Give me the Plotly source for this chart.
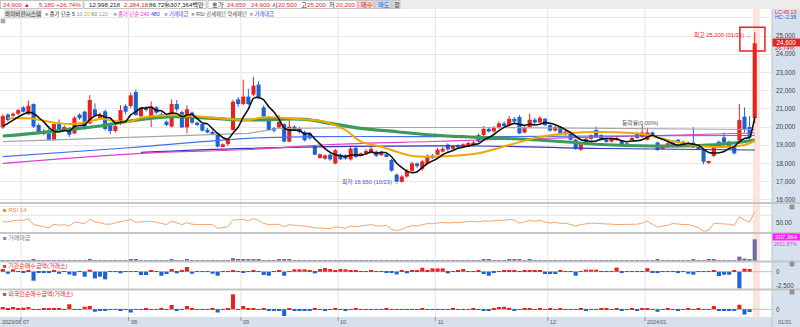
import plotly.graph_objects as go
import pandas as pd

# ---------------- data ----------------
month_labels = ["2023/06", "07", "08", "09", "10", "11", "12", "2024/01"]
month_first = [0, 4, 25, 47, 66, 85, 107, 126]
last_label = "01/31"

opens = [19980,20680,20620,20730,21080,20700,21260,20110,19620,19650,19290,20160,19900,19910,19650,20680,20840,20200,20970,20490,
         20860,20160,19780,20200,21150,21150,21920,20590,21050,20480,21080,20700,20290,20020,21260,20820,19980,20790,20240,20160,
         19850,19700,19650,18950,19070,19840,21520,21260,21670,21780,22330,21080,20530,19930,19980,20160,19200,20020,19910,19730,
         19650,18960,18300,18260,18480,17990,18480,18450,18220,18850,18450,18600,18650,18650,18450,18500,18190,17380,16990,17280,
         17600,18000,17700,18000,18430,18480,18650,19030,18800,19000,18900,18940,19000,19560,19560,19900,19750,19950,20200,20100,
         20450,20550,19700,20000,20400,20250,20450,20100,19800,20000,19600,19700,19300,18750,19050,19350,19840,19560,19300,19200,
         19300,19230,19100,19300,19650,19450,19300,19700,19150,18800,18900,19150,19300,19190,19050,19140,18900,18740,18050,18410,
         19190,19430,19200,18920,19270,20570,20000,20500]
highs = [20700,20750,20800,21000,21150,21450,21300,20200,19900,20050,20250,20420,20100,20000,20600,20750,20900,21750,21300,20800,
         20950,20250,20100,21200,21250,21900,22070,21100,21150,21400,21150,20800,20350,21520,21480,20900,21200,20850,20300,20200,
         19950,19800,19700,19100,19400,21500,21650,22600,22100,22750,22520,21200,20600,20000,20650,20200,20500,20100,20000,19800,
         19700,19000,18550,18500,18550,18800,18550,18500,18900,18950,18600,18800,18900,18700,18700,18550,18250,17450,17350,17700,
         18100,18050,18200,18500,18500,18850,18900,19100,19000,19050,19100,19200,19250,19650,20050,20000,20050,20300,20300,20600,
         20550,20650,20050,20750,20500,20600,20500,20200,20100,20050,19850,19750,19350,19100,19400,19600,20020,19600,19350,19400,
         19450,19300,19150,19450,19700,20110,19950,19750,19200,19000,19150,19200,19350,19250,19200,19980,18950,18800,18150,19050,
         19250,19700,19250,18950,21260,21080,20600,25200]
lows = [19900,20300,20550,20650,20800,20650,19950,19600,19550,19250,19250,19800,19850,19450,19600,20400,19850,20150,20550,20400,
        19800,19600,19700,20100,20700,21050,20600,20500,20850,20000,20700,20500,20050,19980,20850,19950,19650,20150,20050,19750,
        19650,19550,18880,18900,18950,19800,21100,21200,21200,21700,21550,20500,19800,19700,19950,19150,19150,19800,19650,19200,
        19300,18450,18250,18200,18150,17950,18200,18200,18150,18300,18400,18500,18550,18350,18400,18350,17550,16980,16950,17200,
        17550,17750,17600,17950,18250,18450,18600,18700,18750,18850,18850,18900,18950,19150,19500,19700,19700,19900,20000,20050,
        20200,19600,19650,19950,20150,20200,20050,19750,19750,19550,19550,19250,18750,18700,19000,19300,19400,19250,19150,19150,
        19250,18950,18950,19250,19350,19400,19250,19500,18700,18750,18850,19000,19100,18950,19000,18850,18750,17950,17950,18350,
        18900,19100,18900,18500,19200,19700,19300,20200]
closes = [20600,20380,20730,20930,20840,21170,20020,19650,19740,19290,20160,19840,20000,19580,20510,20490,19980,21480,20660,20680,
          19890,19780,20050,20930,20840,21740,20660,21040,20950,21120,20790,20550,20110,21260,20970,19980,20970,20240,20150,19800,
          19700,19650,18920,19050,19320,21390,21260,21670,21260,22270,21650,20570,19840,19800,20290,19200,20020,19840,19720,19270,
          19380,18480,18500,18440,18220,18720,18220,18260,18810,18350,18550,18650,18800,18420,18620,18400,17600,16990,17280,17600,
          18000,17850,18110,18420,18300,18750,18800,18770,18950,18880,19050,19120,19150,19200,19900,19750,19950,20200,20100,20450,
          20300,19650,19950,20400,20250,20500,20100,19800,20000,19600,19750,19300,18800,19050,19350,19550,19420,19290,19200,19350,
          19400,19010,19000,19400,19400,19700,19700,19550,18740,18950,19100,19050,19150,19010,19150,18880,18800,18090,18060,19010,
          18960,19140,18950,18550,20380,19840,19420,24600]
ma5_head = [20050, 20200, 20380, 20550]

ma20_i = [1,5,7,10,13,15,18,19,22,25,27,32,36,40,45,48,51,57,63,67,70,74,80,84,90,93,99,105,111,117,125,130,136,142,145,147]
ma20_v = [20477,20477,20400,20240,20165,20200,20380,20450,20330,20300,20500,20650,20620,20540,20420,20384,20533,20456,20291,19835,
          19192,18917,18406,18368,18461,18555,19010,19450,19670,19725,19615,19285,18956,18917,19010,19230]
ma60_i = [0,6,12,19,24,29,33,38,44,48,59,64,70,77,84,90,93,101,109,117,127,136,142,147]
ma60_v = [19505,19653,19835,20055,20290,20477,20566,20533,20423,20384,20423,20203,19928,19741,19560,19467,19434,19340,19203,19038,
          18956,18983,19093,19285]
ma120_i = [0,24,48,54,74,93,117,147]
ma120_v = [19192,19423,19653,19917,19972,19972,19917,19862]
ma_blue_i = [0,24,48,60,93,117,147]
ma_blue_v = [18368,18846,19379,19467,19467,19505,19533]
ma240_i = [0,27,48,64,84,93,132,147]
ma240_v = [18005,18555,18764,19038,19203,19285,19560,19670]
ma480_i = [27,48,93,117,147]
ma480_v = [18610,18830,18956,18818,18736]

rsi14 = [53,52,55,57,56,60,45,41,39,36,46,43,45,41,52,50,47,59,52,50,
         46,46,50,53,55,59,51,53,53,54,51,48,45,54,50,45,50,46,45,45,
         44,45,35,37,39,57,57,59,55,61,56,48,45,45,46,39,45,43,43,41,
         39,36,36,35,34,39,36,35,41,39,41,43,45,42,41,43,32,29,32,38,
         42,41,45,48,47,50,51,49,51,50,52,53,54,52,55,54,55,57,56,59,
         57,49,52,56,54,56,52,49,51,48,49,46,41,45,47,49,48,48,46,46,
         45,45,44,45,46,49,54,46,38,41,43,48,46,45,45,41,37,27,30,48,
         47,48,46,43,66,57,52,79]

trade_value = [9000,7000,6000,8000,7000,12000,15000,9000,6000,8000,12000,8000,5000,7000,14000,8000,10000,30000,14000,9000,
               13000,8000,6000,12000,9000,26000,28000,12000,8000,14000,9000,7000,6000,18000,10000,12000,16000,9000,6000,7000,
               5000,5000,10000,6000,7000,40000,24000,28000,20000,26000,22000,14000,13000,8000,25000,27000,18000,8000,7000,9000,
               7000,12000,6000,5000,6000,10000,7000,5000,9000,8000,5000,5000,6000,5000,5000,4000,10000,14000,12000,10000,
               9000,6000,8000,9000,5000,7000,6000,6000,5000,4000,5000,5000,6000,12000,20000,22000,12000,14000,10000,28000,
               16000,22000,12000,18000,9000,12000,10000,9000,8000,14000,7000,9000,14000,10000,9000,8000,12000,8000,6000,5000,
               6000,7000,5000,6000,7000,12000,14000,9000,18000,8000,7000,6000,6000,6000,7000,22000,9000,14000,15000,16000,
               10000,12000,9000,11000,62000,35000,18000,307364]

inst_net = [490,-370,430,60,-60,250,-1660,-100,-80,-80,180,-370,50,-490,-740,40,-920,370,-1230,-920,
            -1410,-50,40,-300,30,60,-50,-610,-610,250,-40,-740,-430,490,-300,300,860,-370,30,-40,
            40,-370,-740,30,40,300,40,-200,30,300,40,-610,-740,-40,300,-740,40,430,430,430,
            300,-300,490,670,490,300,490,430,300,250,40,120,180,30,120,-60,-100,-490,300,-300,
            300,300,740,300,610,610,610,-300,40,300,490,40,50,250,-430,-740,-200,40,250,250,
            250,40,250,250,300,300,-430,-430,-430,250,60,40,-740,50,370,370,370,50,-40,40,
            750,-250,40,60,40,50,650,-250,-250,40,50,40,-250,40,-370,-550,50,120,60,300,
            -790,-550,-550,300,-3100,560,500,0]

frgn_net = [430,60,430,60,300,430,40,-100,60,200,60,250,40,920,40,-60,490,610,-430,-250,
            -300,-60,40,-250,40,-610,-60,40,180,40,-60,60,40,800,-300,40,610,120,40,-60,
            40,180,-610,40,60,2760,40,610,60,250,40,180,-250,-300,-300,-1230,250,-300,-300,-300,
            -300,120,40,-250,40,200,-60,-200,40,150,40,-60,40,-60,40,60,-60,40,-60,-100,
            40,-60,60,-60,40,-100,40,-60,60,-60,40,-60,60,-60,-250,-300,60,430,490,300,
            -250,40,60,180,40,200,-60,150,40,60,40,-60,40,60,-250,40,-60,60,150,40,
            150,-250,40,100,-200,60,100,-60,-450,40,100,-60,-250,40,100,-100,180,40,-60,600,
            -300,-300,-150,-200,850,-950,-480,0]

N = len(closes)
for arr in (opens, highs, lows, rsi14, trade_value, inst_net, frgn_net):
    assert len(arr) == N, len(arr)

# ---------------- geometry helpers ----------------
W, H = 800, 327
ML, MR, MT, MB = 0, 28, 9, 10
PW, PH = W - ML - MR, H - MT - MB


def PX(x):
    return (x - ML) / PW


def PY(y):
    return (H - MB - y) / PH


RED = '#e8231e'
BLUE = '#1e62d4'
FONT = 'Liberation Sans, Noto Sans CJK KR'
NUMF = 'Liberation Sans'

fig = go.Figure()
idx = list(range(N))
up = [i for i in idx if closes[i] >= opens[i]]
dn = [i for i in idx if closes[i] < opens[i]]


def wicks(sel):
    xs, ys = [], []
    for i in sel:
        xs += [i, i, None]
        ys += [lows[i], highs[i], None]
    return xs, ys


MINB = 45
for sel, col in ((up, RED), (dn, BLUE)):
    wx, wy = wicks(sel)
    fig.add_trace(go.Scatter(x=wx, y=wy, mode='lines', line=dict(color=col, width=1),
                             xaxis='x', yaxis='y', hoverinfo='skip'))
    base = [min(opens[i], closes[i]) for i in sel]
    hgt = [max(abs(closes[i] - opens[i]), MINB) for i in sel]
    fig.add_trace(go.Bar(x=sel, y=hgt, base=base, width=0.8,
                         marker=dict(color=col, line=dict(width=0)), xaxis='x', yaxis='y'))

# moving averages
ma_specs = [
    (ma480_i, ma480_v, '#3535b5', 1.2, 'spline'),
    (ma240_i, ma240_v, '#e040c8', 1.2, 'spline'),
    (ma_blue_i, ma_blue_v, '#4a6cf0', 1.2, 'spline'),
    (ma120_i, ma120_v, '#a6a6a6', 1.2, 'linear'),
    (ma60_i, ma60_v, '#3c9a5a', 3.2, 'spline'),
    (ma20_i, ma20_v, '#f0a800', 2.0, 'spline'),
]
for xi, yv, col, w, shp in ma_specs:
    fig.add_trace(go.Scatter(x=xi, y=yv, mode='lines', line=dict(color=col, width=w, shape=shp),
                             xaxis='x', yaxis='y', hoverinfo='skip'))
ma5 = pd.Series(closes).rolling(5).mean().tolist()
ma5[:4] = ma5_head
fig.add_trace(go.Scatter(x=idx, y=ma5, mode='lines', line=dict(color='#111111', width=1.6, shape='spline', smoothing=0.6),
                         xaxis='x', yaxis='y', hoverinfo='skip'))

# RSI
fig.add_trace(go.Scatter(x=idx, y=rsi14, mode='lines', line=dict(color='#f6a56e', width=1),
                         xaxis='x', yaxis='y2', hoverinfo='skip'))
# trading value
fig.add_trace(go.Bar(x=idx, y=trade_value, width=0.8, marker=dict(color='#6e6aa2', line=dict(width=0)),
                     xaxis='x', yaxis='y3'))
# institutions / foreigners
for arr, ax in ((inst_net, 'y4'), (frgn_net, 'y5')):
    cols = [RED if v >= 0 else BLUE for v in arr]
    fig.add_trace(go.Bar(x=idx, y=arr, width=0.8, marker=dict(color=cols, line=dict(width=0)),
                         xaxis='x', yaxis=ax))

# ---------------- layout ----------------
tickfont = dict(size=6.3, color='#444', family=NUMF)
price_ticks = list(range(16000, 27000, 1000))
common_y = dict(side='right', anchor='x', zeroline=False, showline=False, ticks='', automargin=False,
                tickfont=tickfont, fixedrange=True, ticklabelstandoff=3)
fig.update_layout(
    width=W, height=H, margin=dict(l=ML, r=MR, t=MT, b=MB, pad=0),
    template='none', paper_bgcolor='white', plot_bgcolor='white',
    showlegend=False, barmode='overlay', hovermode=False,
    font=dict(family=FONT, size=7, color='#333'),
    xaxis=dict(domain=[0, 1], range=[-0.555, 150.38], showgrid=False, showticklabels=False,
               zeroline=False, showline=False, anchor='y5', fixedrange=True),
    yaxis=dict(domain=[PY(202), 1], range=[15879, 26484], tickvals=price_ticks,
               ticktext=[f"{v:,}" if v < 26000 else "" for v in price_ticks],
               showgrid=True, gridcolor='#e8e8e8', gridwidth=1, **common_y),
    yaxis2=dict(domain=[PY(232), PY(204)], range=[25.1, 100], tickvals=[50], ticktext=['50.00'],
                showgrid=False, **common_y),
    yaxis3=dict(domain=[PY(261), PY(234)], range=[0, 383000], showticklabels=False, showgrid=False, **common_y),
    yaxis4=dict(domain=[PY(289), PY(262)], range=[-3183, 1785], tickvals=[0, -2500], ticktext=['0', '-2,500'],
                showgrid=False, **common_y),
    yaxis5=dict(domain=[PY(316.5), PY(290)], range=[-1325, 3551], tickvals=[0], ticktext=['0'],
                showgrid=False, **common_y),
)

shapes = []
XR = PX(W)
# right strip & bottom strip & header
shapes.append(dict(type='rect', xref='paper', yref='paper', x0=1, x1=XR, y0=PY(H), y1=1, fillcolor='#d7e0ed',
                   line=dict(width=0), layer='below'))
shapes.append(dict(type='rect', xref='paper', yref='paper', x0=0, x1=XR, y0=PY(H), y1=0, fillcolor='#d7e0ed',
                   line=dict(width=0), layer='below'))
shapes.append(dict(type='line', xref='paper', yref='paper', x0=1, x1=1, y0=PY(H), y1=1,
                   line=dict(color='#b9c5d6', width=1), layer='below'))
shapes.append(dict(type='rect', xref='paper', yref='paper', x0=0, x1=XR, y0=1, y1=PY(0), fillcolor='#ececec',
                   line=dict(width=0), layer='below'))
# header boxes
for x0, x1, fc in ((0.5, 83, 'white'), (84, 166, 'white'), (167, 206, 'white'), (208, 357, 'white'),
                   (358, 374, '#f5cfcf'), (375, 391, '#cdd9f2'), (392, 400, '#dcdcdc')):
    shapes.append(dict(type='rect', xref='paper', yref='paper', x0=PX(x0), x1=PX(x1), y0=PY(8.5), y1=PY(0.5),
                       fillcolor=fc, line=dict(color='#c4c4c4', width=1), layer='below'))
# highlighted last day
shapes.append(dict(type='rect', xref='x', yref='paper', x0=146.65, x1=148.0, y0=0, y1=1,
                   fillcolor='#fde3db', line=dict(width=0), layer='below'))
# monthly vertical gridlines
for m in month_first[1:]:
    shapes.append(dict(type='line', xref='x', yref='paper', x0=m - 0.45, x1=m - 0.45, y0=0, y1=1,
                       line=dict(color='#e4e4e4', width=1), layer='below'))
    shapes.append(dict(type='line', xref='x', yref='paper', x0=m - 0.45, x1=m - 0.45, y0=PY(321), y1=PY(317),
                       line=dict(color='#8a94a6', width=1), layer='below'))
# RSI reference lines
for lv in (70, 93):
    shapes.append(dict(type='line', xref='paper', yref='y2', x0=0, x1=1, y0=lv, y1=lv,
                       line=dict(color='#e2e2e2', width=1), layer='below'))
# zero lines
for ax in ('y4', 'y5'):
    shapes.append(dict(type='line', xref='paper', yref=ax, x0=0, x1=1, y0=0, y1=0,
                       line=dict(color='#a9c4ef', width=1), layer='below'))
# panel separators
for ys in (203, 233, 261.5, 289.5):
    shapes.append(dict(type='line', xref='paper', yref='paper', x0=0, x1=XR, y0=PY(ys), y1=PY(ys),
                       line=dict(color='#c6c6c6', width=2), layer='above'))
# user box around the high
shapes.append(dict(type='rect', xref='x', yref='y', x0=144.1, x1=149.0, y0=24176, y1=25478,
                   line=dict(color='#e8231e', width=1.5), layer='above'))
# small panel icons
for yy in (207, 236, 264, 292):
    shapes.append(dict(type='rect', xref='paper', yref='paper', x0=PX(790), x1=PX(794), y0=PY(yy + 2), y1=PY(yy - 2),
                       fillcolor='#9a9a9a', line=dict(color='#6f6f6f', width=0.5), layer='above'))
shapes.append(dict(type='rect', xref='paper', yref='paper', x0=PX(1), x1=PX(5), y0=PY(23), y1=PY(19),
                   fillcolor='#b0b0b0', line=dict(color='#888', width=0.5), layer='above'))
fig.update_layout(shapes=shapes)

ann = []


def txt(x, y, s, color='#333', size=7, bg=None, xanchor='left', family=FONT, width=None, ref=('paper', 'paper')):
    d = dict(x=x, y=y, xref=ref[0], yref=ref[1], text=s, showarrow=False, xanchor=xanchor, yanchor='middle',
             font=dict(size=size, color=color, family=family), borderpad=0)
    if bg:
        d['bgcolor'] = bg
    if width:
        d['width'] = width
    ann.append(d)


def span(s, c):
    return f"<span style='color:{c}'>{s}</span>"


# header row 1
hy = PY(4.6)
for x, s, c in ((2, "24,600 ▲", RED), (38, "5,180 +26.74%", RED), (88, "12,998,218", '#222'),
                (123, "2,284,18", RED), (148, "86.72%", '#222'), (169, "307,364백만", '#222'),
                (211, "호가", '#222'), (226, "24,650", RED), (250, "24,600", RED),
                (271, "시", '#222'), (277, "20,500", RED), (300, "고", '#222'), (306, "25,200", RED),
                (328, "저", '#222'), (335, "20,200", RED), (360, "매수", RED), (377, "매도", BLUE),
                (393, "정", '#333')):
    txt(PX(x), hy, s, c, 6.2)

# legend row 2
ly = PY(14)
txt(PX(4), ly, "하이비젼시스템", '#333', 5.6, bg='#d9d9d9')
NB = "\u00a0"
leg = (span("■", '#aaaaaa') + NB + span("종가 단순 5", '#333') + NB + span("10", '#6d8cff') + NB
       + span("20", '#f0a000') + NB + span("60", '#2e9e4e') + NB + span("120", '#9a9a9a') + NB * 4
       + span("■", '#aaaaaa') + NB + span("종가 단순 240", '#e030d0') + NB + span("480", '#3535ff') + NB * 3
       + span("■", '#aaaaaa') + NB + span("거래대금", '#3a3aff') + NB * 2
       + span("■", '#aaaaaa') + NB + span("RSI 강세패턴", '#555') + NB + span("약세패턴", '#555') + NB * 2
       + span("■", '#aaaaaa') + NB + span("거래대금", '#3a3aff'))
txt(PX(44), ly, leg, '#333', 5.3)

# right strip top
txt(PX(774), PY(12.5), "LC:45.13", RED, 5.3, family=NUMF)
txt(PX(774), PY(17), "HC:-2.38", BLUE, 5.3, family=NUMF)

# current price markers on the price axis
txt(PX(786), PY(42.8), "24,600", 'white', 6.3, bg=RED, xanchor='center', family=NUMF, width=27)
txt(PX(774), PY(47.8), "26.74%", RED, 5.8, family=NUMF)

# high / low labels
txt(146.5, 25080, "최고 25,200 (01/31) →", RED, 5.8, xanchor='right', ref=('x', 'y'))
txt(77.6, 16990, "최저 16,950 (10/23) →", '#4a55d8', 5.8, xanchor='right', ref=('x', 'y'))
txt(PX(621), PY(123.5), "등락률(0.00%)", '#555', 5.8)

# panel labels
txt(PX(2), PY(210), "■ RSI 14", '#f08a40', 6)
txt(PX(2), PY(238), "■ 거래대금", '#7c7cb0', 6)
txt(PX(2), PY(265.5), "■ 기관순매수금액(거래소)", '#e03030', 6)
txt(PX(2), PY(293.5), "■ 외국인순매수금액(거래소)", '#e03030', 6)

# trading value marker
txt(PX(786), PY(237.5), "307,364", 'white', 6, bg='#ff22ff', xanchor='center', family=NUMF, width=27)
txt(PX(773), PY(243.5), "2601.87%", '#e040e0', 5.1, family=NUMF)

# bottom date labels
by = PY(322)
txt(PX(0.5), by, month_labels[0], '#555', 5.4, family=NUMF)
for m, lab in zip(month_first[1:], month_labels[1:]):
    txt(m - 0.2, by, lab, '#555', 5.4, family=NUMF, ref=('x', 'paper'))
txt(PX(777), by, last_label, '#555', 5.4, family=NUMF)

fig.update_layout(annotations=ann)
fig.write_html("out.html")
